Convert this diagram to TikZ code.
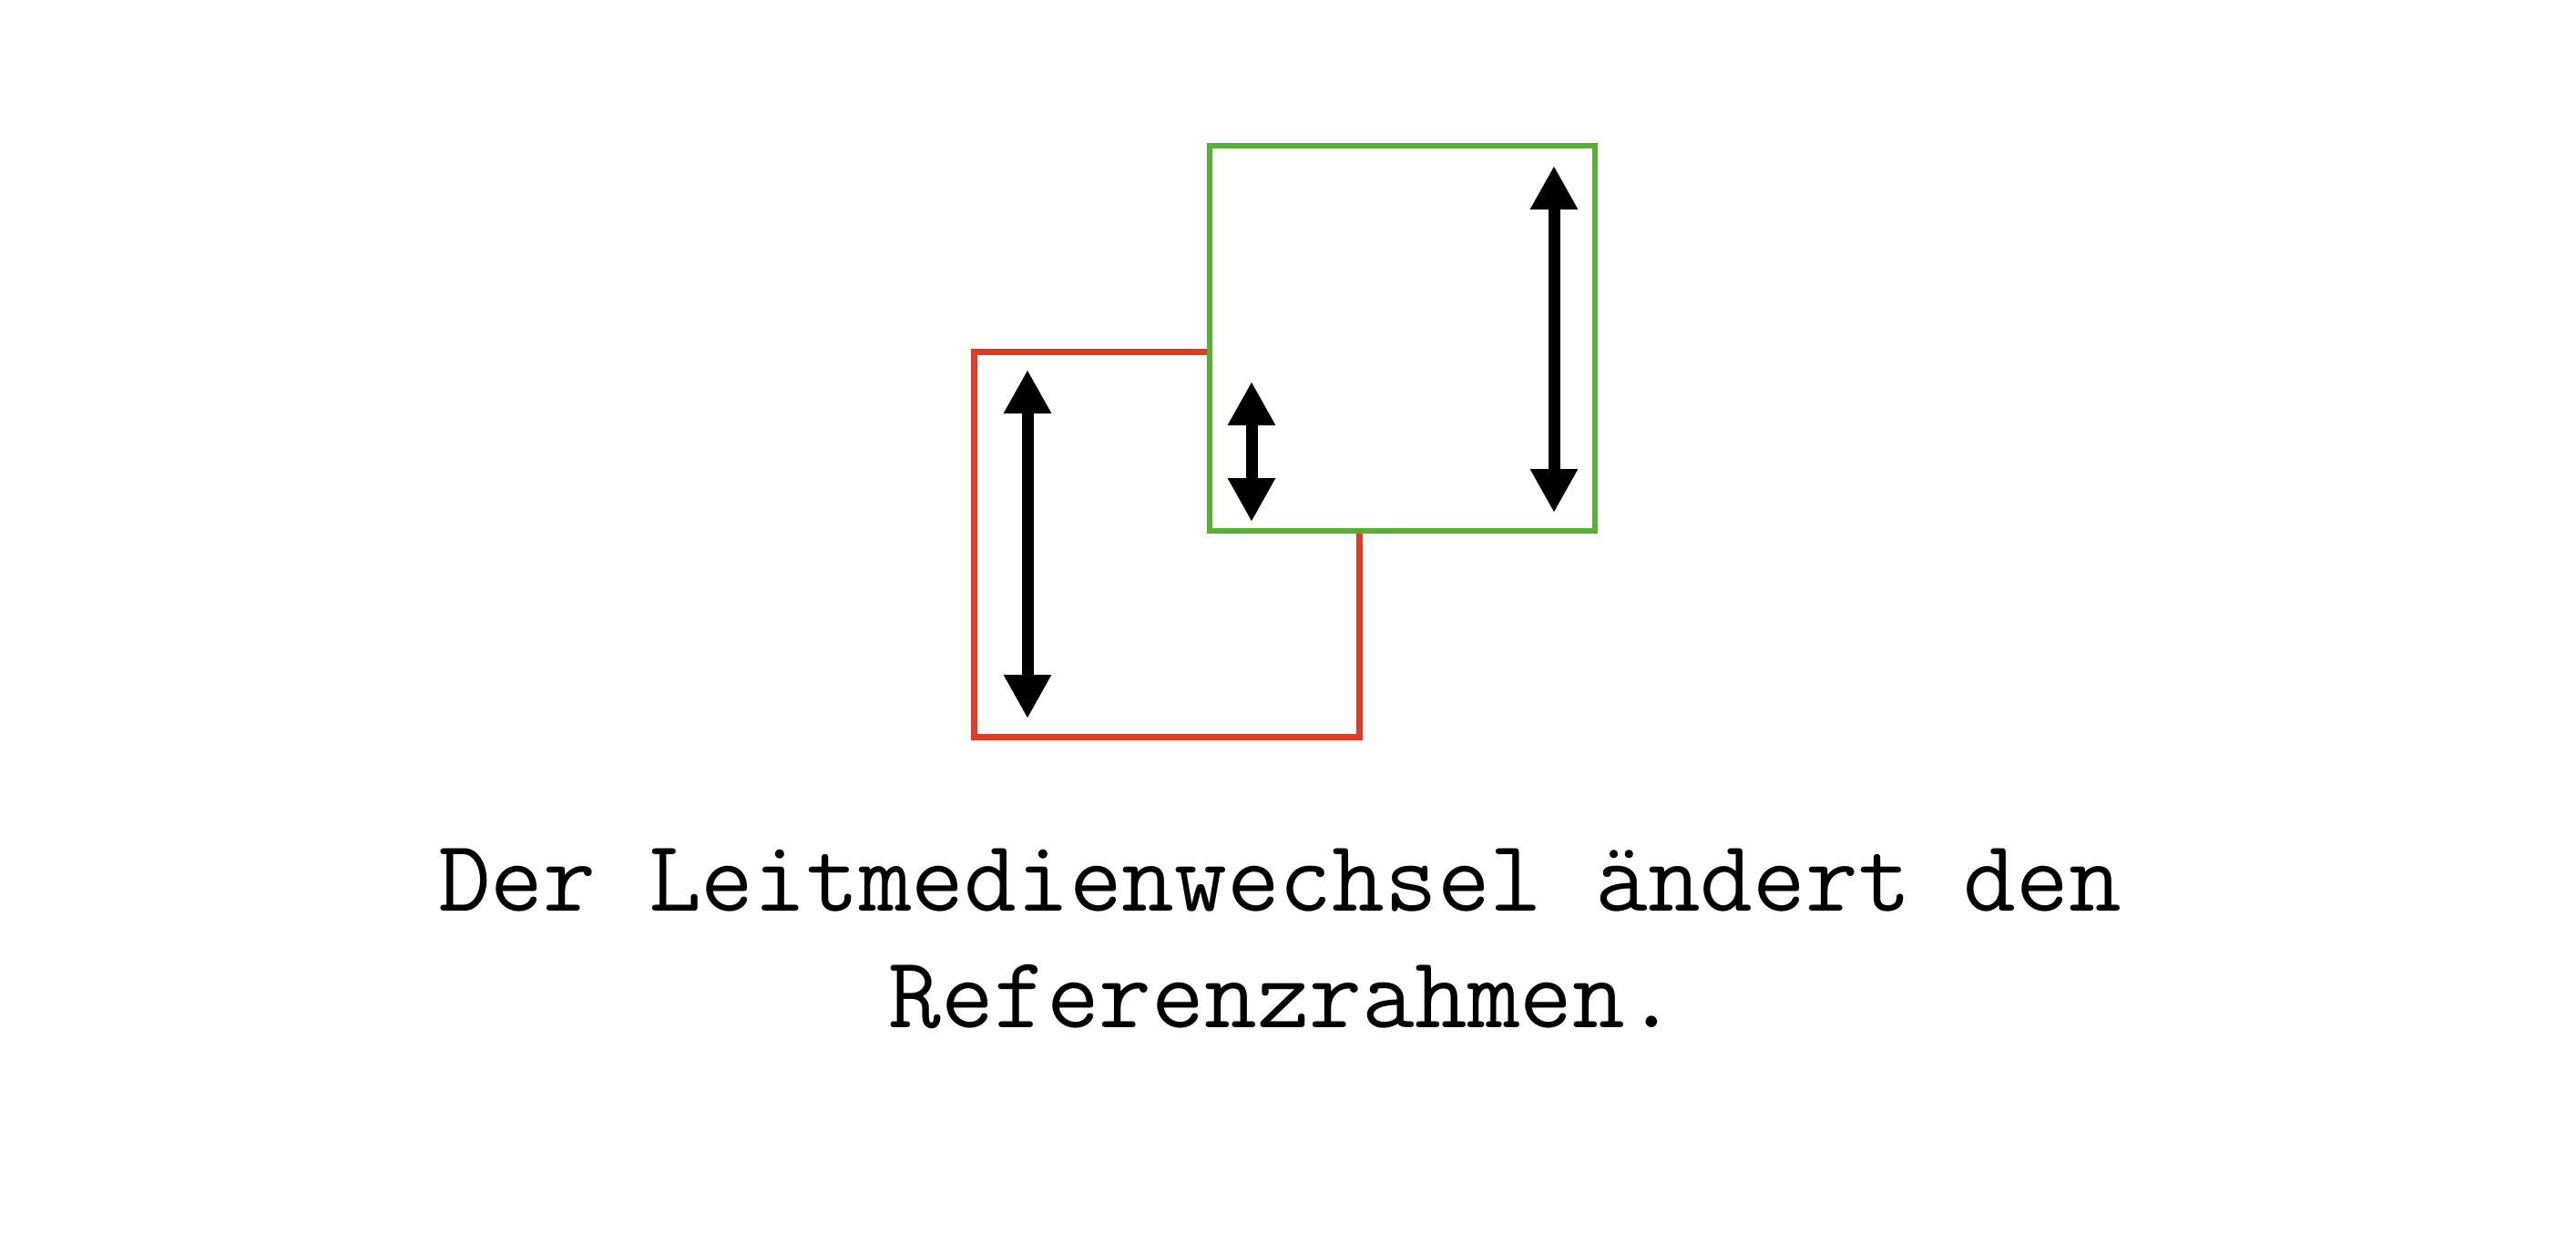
\documentclass[tikz,border=0pt]{standalone}
\usepackage{fontspec}
\usetikzlibrary{arrows.meta}
\definecolor{framered}{RGB}{222,60,40}
\definecolor{framegreen}{RGB}{90,174,53}
\tikzset{
  frame/.style={draw=#1, line width=0.065cm, fill=white, minimum width=4.23cm, minimum height=4.23cm, inner sep=0pt},
  sketch/.style={draw=#1, line width=0.02cm, opacity=0.55},
  dblarrow/.style={line width=0.13cm, {Triangle[width=0.49cm,length=0.48cm]}-{Triangle[width=0.49cm,length=0.48cm]}},
  caption/.style={font={\ttfamily\addfontfeatures{FakeBold=4}\fontsize{31.9}{36.4}\selectfont}, anchor=base, inner sep=0pt}
}
\begin{document}
\begin{tikzpicture}
\useasboundingbox (0,0) rectangle (28.28,-13.64);
\fill[white] (0,0) rectangle (28.28,-13.64);
% red frame (behind)
\node[frame=framered] (red) at (12.81,-5.98) {};
\draw[sketch=framered] ([shift={(0.05,-0.03)}]red.north west) -- ([shift={(0.04,0.05)}]red.south west);
\draw[sketch=framered] ([shift={(-0.04,0.04)}]red.south east) -- ([shift={(-0.05,0)}]red.east);
% green frame (front)
\node[frame=framegreen] (green) at (15.395,-3.715) {};
\draw[sketch=framegreen] ([shift={(0.05,-0.04)}]green.north west) -- ([shift={(0.04,0.05)}]green.south west);
\draw[sketch=framegreen] ([shift={(0.06,-0.05)}]green.north west) -- ([shift={(-0.04,-0.04)}]green.north east);
\draw[sketch=framegreen] ([shift={(-0.05,-0.05)}]green.north east) -- ([shift={(-0.04,0.05)}]green.south east);
% arrows
\coordinate (la1) at (11.28,-4.06);
\coordinate (la2) at (11.28,-7.89);
\coordinate (sa1) at (13.74,-4.19);
\coordinate (sa2) at (13.74,-5.73);
\coordinate (ra1) at (17.06,-1.82);
\coordinate (ra2) at (17.06,-5.63);
\draw[dblarrow] (la1) -- (la2);
\draw[dblarrow] (sa1) -- (sa2);
\draw[dblarrow] (ra1) -- (ra2);
% caption
\node[caption] (line1) at (14.05,-10.00) {Der Leitmedienwechsel ändert den};
\node[caption] (line2) at (14.09,-11.28) {Referenzrahmen.};
\end{tikzpicture}
\end{document}
